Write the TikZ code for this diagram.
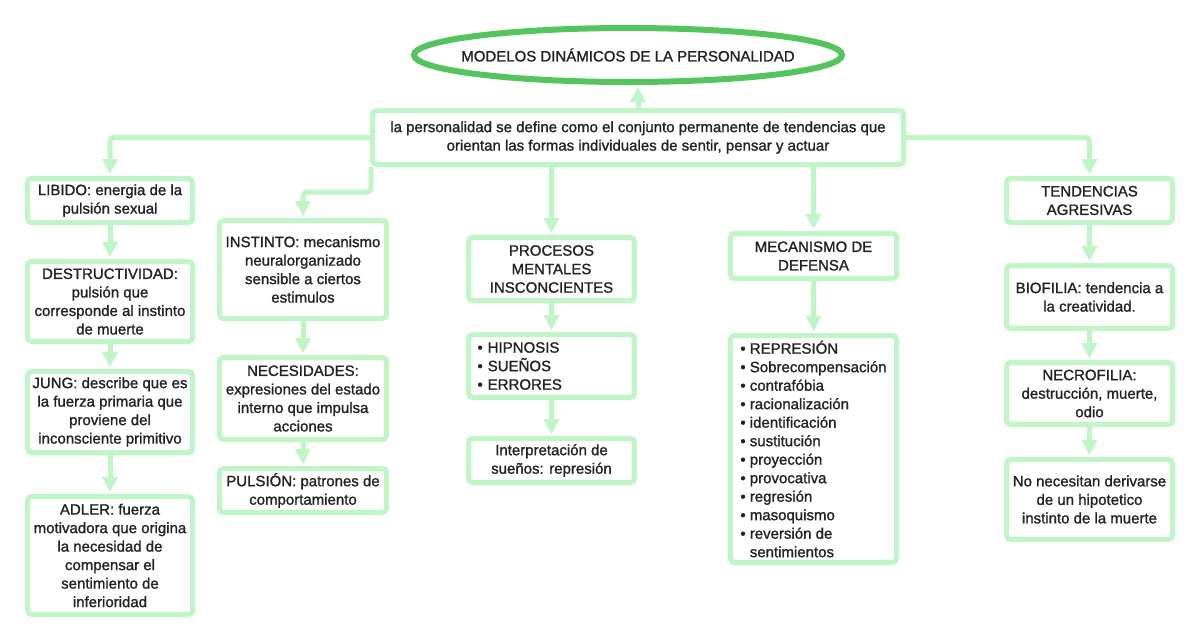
\documentclass[tikz,border=0pt]{standalone}
\usepackage{fontspec}
\setmainfont{Liberation Sans}[BoldFont=Liberation Sans, BoldFeatures={FakeBold=1.2}]
\usetikzlibrary{arrows.meta,shapes.geometric}
\definecolor{lg}{RGB}{192,245,200}
\definecolor{dg}{RGB}{84,196,94}
\definecolor{txt}{RGB}{34,34,34}
\begin{document}
\begin{tikzpicture}[x=1pt,y=-1pt,
  every node/.style={font=\fontsize{15pt}{18.5pt}\selectfont\bfseries, text=txt},
  box/.style={draw=lg, line width=5pt, rounded corners=4pt, fill=white, align=center, inner sep=0pt},
  leftbox/.style={box, align=left, inner xsep=9pt},
  titleshape/.style={ellipse, draw=dg, line width=6pt, inner sep=0pt, fill=white},
  conn/.style={draw=lg, line width=5pt, -{Triangle[length=15pt,width=15pt]}, shorten >=2pt, rounded corners=4pt}]
\useasboundingbox (0,0) rectangle (1200,641);

% title and main definition
\node[titleshape, minimum width=428pt, minimum height=54pt] (title) at (628,55) {\makebox[0pt]{MODELOS DINÁMICOS DE LA PERSONALIDAD}};
\node[box, minimum width=531pt, minimum height=54pt] (main) at (638,137.5) {la personalidad se define como el conjunto permanente de tendencias que\\orientan las formas individuales de sentir, pensar y actuar};

% column 1
\node[box, minimum width=165pt, minimum height=44pt] (libido) at (110,200.5) {LIBIDO: energia de la\\pulsión sexual};
\node[box, minimum width=165pt, minimum height=80pt] (destr) at (110,301.5) {DESTRUCTIVIDAD:\\pulsión que\\corresponde al instinto\\de muerte};
\node[box, minimum width=165pt, minimum height=81pt] (jung) at (110,412) {JUNG: describe que es\\la fuerza primaria que\\proviene del\\inconsciente primitivo};
\node[box, minimum width=165pt, minimum height=118pt] (adler) at (110,555.5) {ADLER: fuerza\\motivadora que origina\\la necesidad de\\compensar el\\sentimiento de\\inferioridad};

% column 2
\node[box, minimum width=167pt, minimum height=98pt] (inst) at (303,269.5) {INSTINTO: mecanismo\\neuralorganizado\\sensible a ciertos\\estimulos};
\node[box, minimum width=167pt, minimum height=82pt] (nec) at (303,398.5) {NECESIDADES:\\expresiones del estado\\interno que impulsa\\acciones};
\node[box, minimum width=167pt, minimum height=44pt] (puls) at (303,490.5) {PULSIÓN: patrones de\\comportamiento};

% column 3
\node[box, minimum width=166pt, minimum height=63pt] (proc) at (551.5,269) {PROCESOS\\MENTALES\\INSCONCIENTES};
\node[leftbox, text width=148pt, minimum height=63pt] (hip) at (551.5,366) {• HIPNOSIS\\• SUEÑOS\\• ERRORES};
\node[box, minimum width=166pt, minimum height=44pt] (interp) at (551.5,460.5) {Interpretación de\\sueños: represión};

% column 4
\node[box, minimum width=166pt, minimum height=45pt] (mec) at (813.5,256) {MECANISMO DE\\DEFENSA};
\node[box, align=left, minimum width=166pt, minimum height=227pt] (list) at (813.5,449) {• REPRESIÓN\\• Sobrecompensación\\• contrafóbia\\• racionalización\\• identificación\\• sustitución\\• proyección\\• provocativa\\• regresión\\• masoquismo\\• reversión de\\\phantom{• }sentimientos};

% column 5
\node[box, minimum width=166pt, minimum height=44pt] (tend) at (1089.5,200.5) {TENDENCIAS\\AGRESIVAS};
\node[box, minimum width=166pt, minimum height=63pt] (bio) at (1089.5,297) {BIOFILIA: tendencia a\\la creatividad.};
\node[box, minimum width=166pt, minimum height=62pt] (necro) at (1089.5,393.5) {NECROFILIA:\\destrucción, muerte,\\odio};
\node[box, minimum width=166pt, minimum height=80pt] (nonec) at (1089.5,499.5) {No necesitan derivarse\\de un hipotetico\\instinto de la muerte};

% connectors
\draw[conn] (main.north) -- (main.north |- title.south);
\draw[conn] (main.west) -| (libido.north);
\draw[conn] (main.east) -| (tend.north);
\draw[conn] ([xshift=1pt]main.south west) -- ++(0,25) -| (inst.north);
\draw[conn] (main.south -| proc.north) -- (proc.north);
\draw[conn] (main.south -| mec.north) -- (mec.north);

\draw[conn] (libido) -- (destr);
\draw[conn] (destr) -- (jung);
\draw[conn] (jung) -- (adler);
\draw[conn] (inst) -- (nec);
\draw[conn] (nec) -- (puls);
\draw[conn] (proc) -- (hip);
\draw[conn] (hip) -- (interp);
\draw[conn] (mec) -- (list);
\draw[conn] (tend) -- (bio);
\draw[conn] (bio) -- (necro);
\draw[conn] (necro) -- (nonec);
\end{tikzpicture}
\end{document}
